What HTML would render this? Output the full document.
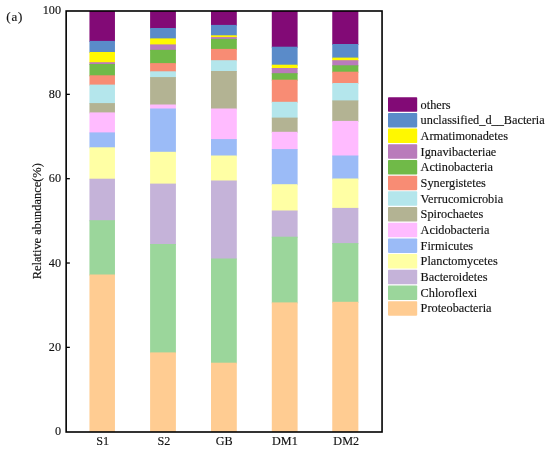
<!DOCTYPE html>
<html><head><meta charset="utf-8"><title>Relative abundance</title>
<style>html,body{margin:0;padding:0;background:#fff}svg{display:block}text{font-family:"Liberation Serif","Times New Roman",serif;fill:#111;stroke:#111;stroke-width:0.15px}</style></head><body>
<svg width="550" height="454" viewBox="0 0 550 454">
<rect x="0" y="0" width="550" height="454" fill="#ffffff"/>
<rect x="89.45" y="11.00" width="25.5" height="30.90" fill="#820a76"/>
<rect x="89.45" y="40.90" width="25.5" height="12.10" fill="#5a8bc9"/>
<rect x="89.45" y="52.00" width="25.5" height="11.20" fill="#fff800"/>
<rect x="89.45" y="62.20" width="25.5" height="2.80" fill="#b97bbb"/>
<rect x="89.45" y="64.00" width="25.5" height="12.30" fill="#70ba48"/>
<rect x="89.45" y="75.30" width="25.5" height="10.30" fill="#f88c74"/>
<rect x="89.45" y="84.60" width="25.5" height="19.50" fill="#b4e6ec"/>
<rect x="89.45" y="103.10" width="25.5" height="10.30" fill="#b3b393"/>
<rect x="89.45" y="112.40" width="25.5" height="21.00" fill="#ffbbff"/>
<rect x="89.45" y="132.40" width="25.5" height="15.90" fill="#9bbbf7"/>
<rect x="89.45" y="147.30" width="25.5" height="32.40" fill="#ffffa4"/>
<rect x="89.45" y="178.70" width="25.5" height="42.50" fill="#c5b3d9"/>
<rect x="89.45" y="220.20" width="25.5" height="55.30" fill="#9bd69b"/>
<rect x="89.45" y="274.50" width="25.5" height="157.50" fill="#ffcc92"/>
<rect x="150.10" y="11.00" width="25.8" height="18.00" fill="#820a76"/>
<rect x="150.10" y="28.00" width="25.8" height="11.40" fill="#5a8bc9"/>
<rect x="150.10" y="38.40" width="25.8" height="7.00" fill="#fff800"/>
<rect x="150.10" y="44.40" width="25.8" height="6.40" fill="#b97bbb"/>
<rect x="150.10" y="49.80" width="25.8" height="14.30" fill="#70ba48"/>
<rect x="150.10" y="63.10" width="25.8" height="9.20" fill="#f88c74"/>
<rect x="150.10" y="71.30" width="25.8" height="6.80" fill="#b4e6ec"/>
<rect x="150.10" y="77.10" width="25.8" height="28.40" fill="#b3b393"/>
<rect x="150.10" y="104.50" width="25.8" height="5.00" fill="#ffbbff"/>
<rect x="150.10" y="108.50" width="25.8" height="44.30" fill="#9bbbf7"/>
<rect x="150.10" y="151.80" width="25.8" height="32.80" fill="#ffffa4"/>
<rect x="150.10" y="183.60" width="25.8" height="61.40" fill="#c5b3d9"/>
<rect x="150.10" y="244.00" width="25.8" height="109.40" fill="#9bd69b"/>
<rect x="150.10" y="352.40" width="25.8" height="79.60" fill="#ffcc92"/>
<rect x="211.00" y="11.00" width="25.8" height="14.90" fill="#820a76"/>
<rect x="211.00" y="24.90" width="25.8" height="11.40" fill="#5a8bc9"/>
<rect x="211.00" y="35.30" width="25.8" height="2.80" fill="#fff800"/>
<rect x="211.00" y="37.10" width="25.8" height="2.80" fill="#b97bbb"/>
<rect x="211.00" y="38.90" width="25.8" height="11.00" fill="#70ba48"/>
<rect x="211.00" y="48.90" width="25.8" height="12.30" fill="#f88c74"/>
<rect x="211.00" y="60.20" width="25.8" height="11.80" fill="#b4e6ec"/>
<rect x="211.00" y="71.00" width="25.8" height="38.50" fill="#b3b393"/>
<rect x="211.00" y="108.50" width="25.8" height="31.60" fill="#ffbbff"/>
<rect x="211.00" y="139.10" width="25.8" height="17.40" fill="#9bbbf7"/>
<rect x="211.00" y="155.50" width="25.8" height="26.00" fill="#ffffa4"/>
<rect x="211.00" y="180.50" width="25.8" height="79.00" fill="#c5b3d9"/>
<rect x="211.00" y="258.50" width="25.8" height="105.20" fill="#9bd69b"/>
<rect x="211.00" y="362.70" width="25.8" height="69.30" fill="#ffcc92"/>
<rect x="271.80" y="11.00" width="25.8" height="36.70" fill="#820a76"/>
<rect x="271.80" y="46.70" width="25.8" height="19.00" fill="#5a8bc9"/>
<rect x="271.80" y="64.70" width="25.8" height="4.30" fill="#fff800"/>
<rect x="271.80" y="68.00" width="25.8" height="6.20" fill="#b97bbb"/>
<rect x="271.80" y="73.20" width="25.8" height="7.50" fill="#70ba48"/>
<rect x="271.80" y="79.70" width="25.8" height="23.10" fill="#f88c74"/>
<rect x="271.80" y="101.80" width="25.8" height="16.80" fill="#b4e6ec"/>
<rect x="271.80" y="117.60" width="25.8" height="15.20" fill="#b3b393"/>
<rect x="271.80" y="131.80" width="25.8" height="18.30" fill="#ffbbff"/>
<rect x="271.80" y="149.10" width="25.8" height="36.10" fill="#9bbbf7"/>
<rect x="271.80" y="184.20" width="25.8" height="27.30" fill="#ffffa4"/>
<rect x="271.80" y="210.50" width="25.8" height="27.20" fill="#c5b3d9"/>
<rect x="271.80" y="236.70" width="25.8" height="66.70" fill="#9bd69b"/>
<rect x="271.80" y="302.40" width="25.8" height="129.60" fill="#ffcc92"/>
<rect x="332.25" y="11.00" width="26.1" height="34.00" fill="#820a76"/>
<rect x="332.25" y="44.00" width="26.1" height="14.60" fill="#5a8bc9"/>
<rect x="332.25" y="57.60" width="26.1" height="3.60" fill="#fff800"/>
<rect x="332.25" y="60.20" width="26.1" height="6.10" fill="#b97bbb"/>
<rect x="332.25" y="65.30" width="26.1" height="7.40" fill="#70ba48"/>
<rect x="332.25" y="71.70" width="26.1" height="12.30" fill="#f88c74"/>
<rect x="332.25" y="83.00" width="26.1" height="18.40" fill="#b4e6ec"/>
<rect x="332.25" y="100.40" width="26.1" height="21.50" fill="#b3b393"/>
<rect x="332.25" y="120.90" width="26.1" height="35.60" fill="#ffbbff"/>
<rect x="332.25" y="155.50" width="26.1" height="24.00" fill="#9bbbf7"/>
<rect x="332.25" y="178.50" width="26.1" height="30.40" fill="#ffffa4"/>
<rect x="332.25" y="207.90" width="26.1" height="36.20" fill="#c5b3d9"/>
<rect x="332.25" y="243.10" width="26.1" height="59.70" fill="#9bd69b"/>
<rect x="332.25" y="301.80" width="26.1" height="130.20" fill="#ffcc92"/>
<rect x="66.15" y="11.00" width="315.90" height="421.00" fill="none" stroke="#000" stroke-width="1.6"/>
<text transform="translate(61.0 434.90) scale(0.91 1)" font-size="13.4" text-anchor="end">0</text>
<line x1="66.15" y1="347.36" x2="69.85000000000001" y2="347.36" stroke="#000" stroke-width="1.3"/>
<text transform="translate(61.0 351.16) scale(0.91 1)" font-size="13.4" text-anchor="end">20</text>
<line x1="66.15" y1="263.02" x2="69.85000000000001" y2="263.02" stroke="#000" stroke-width="1.3"/>
<text transform="translate(61.0 266.82) scale(0.91 1)" font-size="13.4" text-anchor="end">40</text>
<line x1="66.15" y1="178.68" x2="69.85000000000001" y2="178.68" stroke="#000" stroke-width="1.3"/>
<text transform="translate(61.0 182.48) scale(0.91 1)" font-size="13.4" text-anchor="end">60</text>
<line x1="66.15" y1="94.34" x2="69.85000000000001" y2="94.34" stroke="#000" stroke-width="1.3"/>
<text transform="translate(61.0 98.14) scale(0.91 1)" font-size="13.4" text-anchor="end">80</text>
<text transform="translate(61.0 13.80) scale(0.91 1)" font-size="13.4" text-anchor="end">100</text>
<text transform="translate(102.60 445.2) scale(0.91 1)" font-size="13.4" text-anchor="middle">S1</text>
<text transform="translate(163.90 445.2) scale(0.91 1)" font-size="13.4" text-anchor="middle">S2</text>
<text transform="translate(224.20 445.2) scale(0.91 1)" font-size="13.4" text-anchor="middle">GB</text>
<text transform="translate(284.90 445.2) scale(0.91 1)" font-size="13.4" text-anchor="middle">DM1</text>
<text transform="translate(346.20 445.2) scale(0.91 1)" font-size="13.4" text-anchor="middle">DM2</text>
<text transform="translate(40.6 221.2) rotate(-90)" font-size="12.4" text-anchor="middle">Relative abundance(%)</text>
<text x="6.2" y="21.2" font-size="13" letter-spacing="0.9" stroke-width="0.1">(a)</text>
<rect x="388" y="97.20" width="29.2" height="14.5" rx="0.8" fill="#820a76"/>
<text transform="translate(420.6 108.50) scale(0.924 1)" font-size="13.3">others</text>
<rect x="388" y="112.89" width="29.2" height="14.5" rx="0.8" fill="#5a8bc9"/>
<text transform="translate(420.6 124.19) scale(0.924 1)" font-size="13.3">unclassified_d__Bacteria</text>
<rect x="388" y="128.58" width="29.2" height="14.5" rx="0.8" fill="#fff800"/>
<text transform="translate(420.6 139.88) scale(0.924 1)" font-size="13.3">Armatimonadetes</text>
<rect x="388" y="144.27" width="29.2" height="14.5" rx="0.8" fill="#b97bbb"/>
<text transform="translate(420.6 155.57) scale(0.924 1)" font-size="13.3">Ignavibacteriae</text>
<rect x="388" y="159.96" width="29.2" height="14.5" rx="0.8" fill="#70ba48"/>
<text transform="translate(420.6 171.26) scale(0.924 1)" font-size="13.3">Actinobacteria</text>
<rect x="388" y="175.65" width="29.2" height="14.5" rx="0.8" fill="#f88c74"/>
<text transform="translate(420.6 186.95) scale(0.924 1)" font-size="13.3">Synergistetes</text>
<rect x="388" y="191.34" width="29.2" height="14.5" rx="0.8" fill="#b4e6ec"/>
<text transform="translate(420.6 202.64) scale(0.924 1)" font-size="13.3">Verrucomicrobia</text>
<rect x="388" y="207.03" width="29.2" height="14.5" rx="0.8" fill="#b3b393"/>
<text transform="translate(420.6 218.33) scale(0.924 1)" font-size="13.3">Spirochaetes</text>
<rect x="388" y="222.72" width="29.2" height="14.5" rx="0.8" fill="#ffbbff"/>
<text transform="translate(420.6 234.02) scale(0.924 1)" font-size="13.3">Acidobacteria</text>
<rect x="388" y="238.41" width="29.2" height="14.5" rx="0.8" fill="#9bbbf7"/>
<text transform="translate(420.6 249.71) scale(0.924 1)" font-size="13.3">Firmicutes</text>
<rect x="388" y="254.10" width="29.2" height="14.5" rx="0.8" fill="#ffffa4"/>
<text transform="translate(420.6 265.40) scale(0.924 1)" font-size="13.3">Planctomycetes</text>
<rect x="388" y="269.79" width="29.2" height="14.5" rx="0.8" fill="#c5b3d9"/>
<text transform="translate(420.6 281.09) scale(0.924 1)" font-size="13.3">Bacteroidetes</text>
<rect x="388" y="285.48" width="29.2" height="14.5" rx="0.8" fill="#9bd69b"/>
<text transform="translate(420.6 296.78) scale(0.924 1)" font-size="13.3">Chloroflexi</text>
<rect x="388" y="301.17" width="29.2" height="14.5" rx="0.8" fill="#ffcc92"/>
<text transform="translate(420.6 312.47) scale(0.924 1)" font-size="13.3">Proteobacteria</text>
</svg></body></html>
